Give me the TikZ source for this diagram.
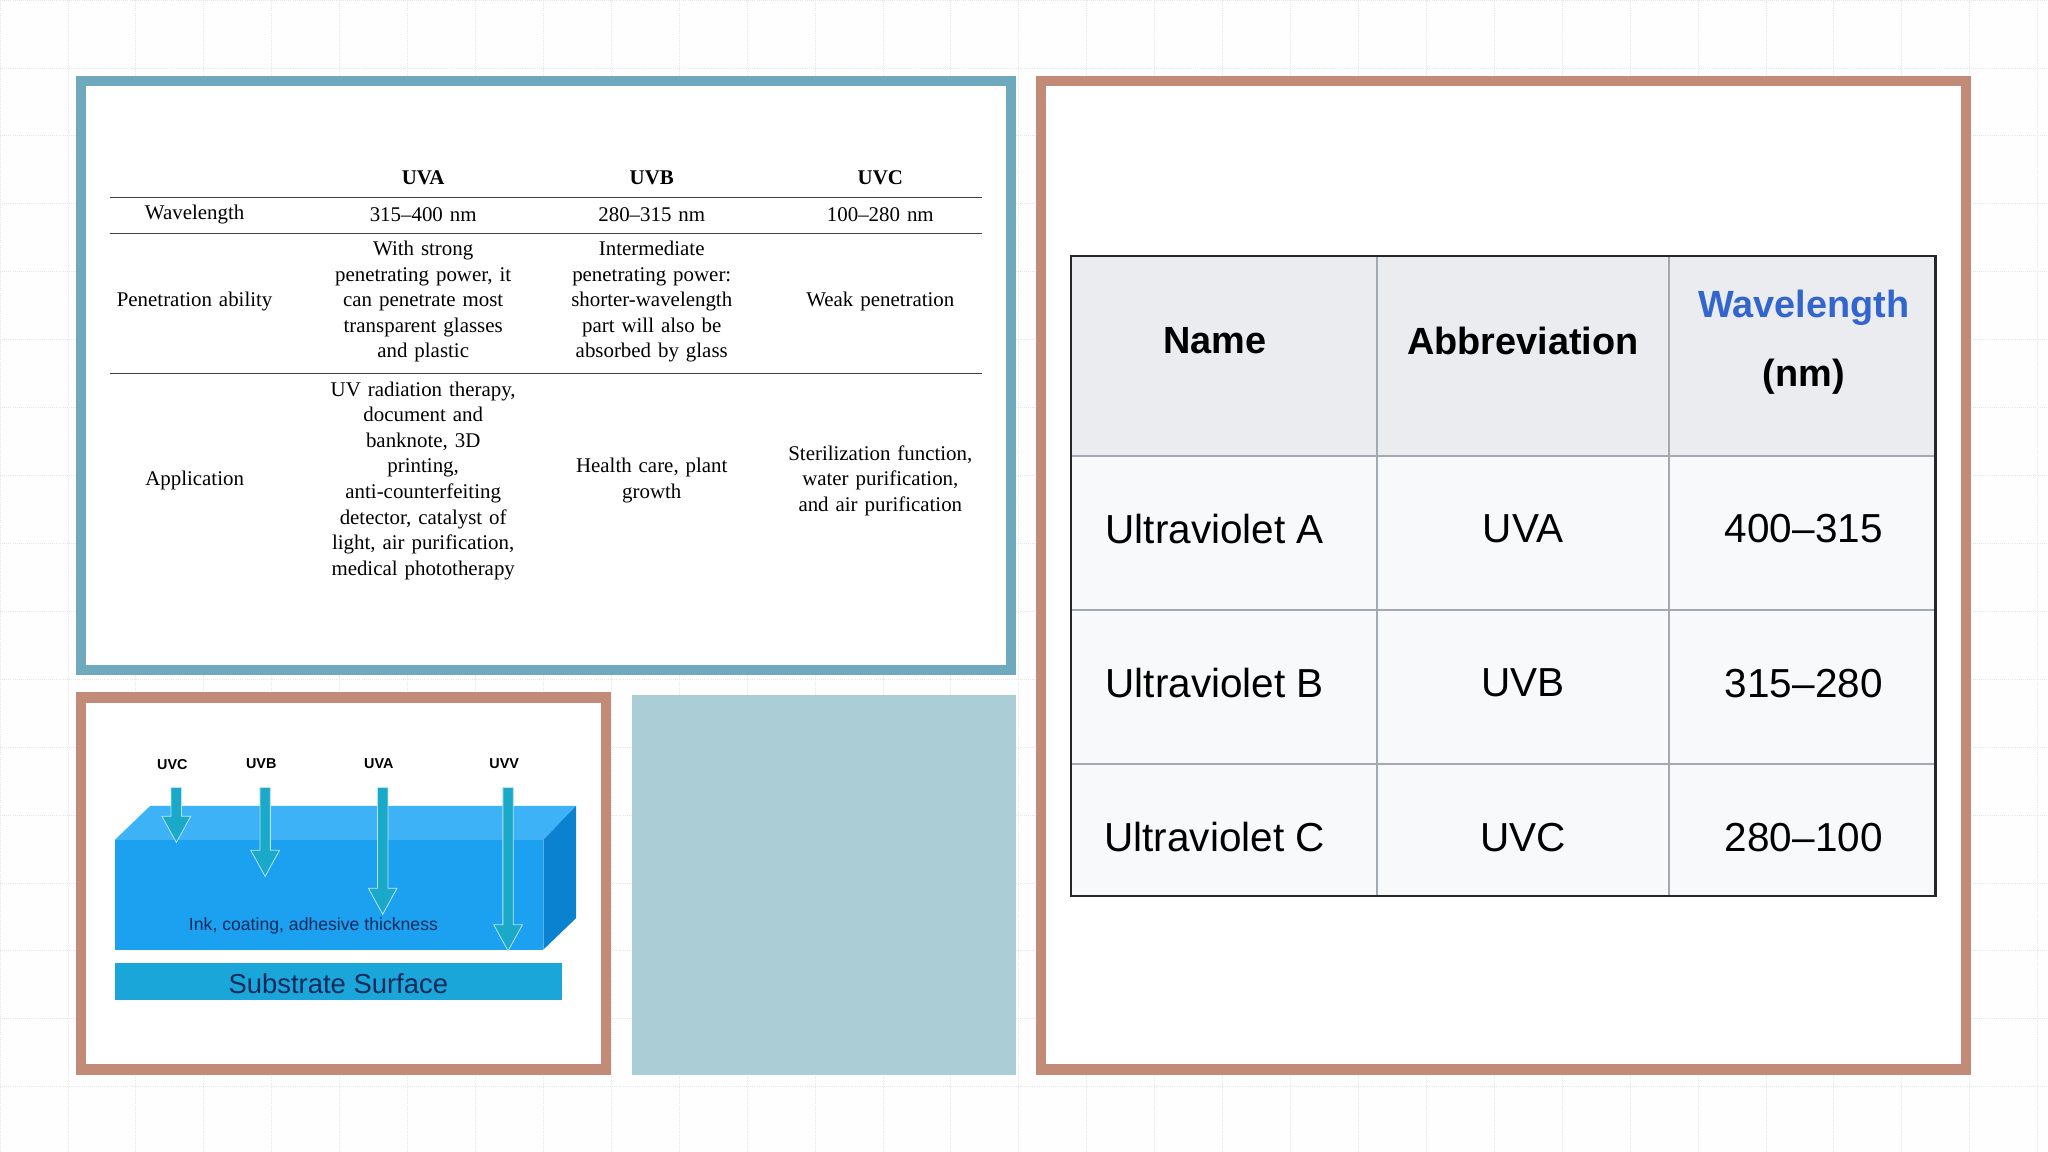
\documentclass[tikz,border=0pt]{standalone}
\usepackage{fontspec}
\setmainfont{Liberation Serif}
\setsansfont{Liberation Sans}
\usetikzlibrary{arrows.meta}
\definecolor{frameblue}{HTML}{6FA9BD}
\definecolor{framebrown}{HTML}{C28B78}
\definecolor{tealbox}{HTML}{AACDD6}
\definecolor{gridc}{HTML}{E6E6E6}
\definecolor{hdrfill}{HTML}{EAECF0}
\definecolor{cellfill}{HTML}{F8F9FA}
\definecolor{cellline}{HTML}{A2A9B1}
\definecolor{wikiblue}{HTML}{3366CC}
\definecolor{frontc}{HTML}{1BA1F0}
\definecolor{topc}{HTML}{3DB2F6}
\definecolor{sidec}{HTML}{0B82CF}
\definecolor{subc}{HTML}{1AA6D8}
\definecolor{arrc}{HTML}{1AA9C9}
\definecolor{navy}{HTML}{0E2A5C}
\tikzset{
  tcell/.style={font=\fontsize{16}{19.6}\selectfont, align=center, text width=160pt, inner sep=0pt},
  thead/.style={font=\bfseries\fontsize{16}{19.6}\selectfont, inner sep=0pt},
  wcell/.style={font=\sffamily\fontsize{31}{36}\selectfont, inner sep=0pt},
  whead/.style={font=\sffamily\bfseries\fontsize{29}{53}\selectfont, inner sep=0pt, align=center},
  uvlab/.style={font=\sffamily\bfseries\fontsize{11}{12}\selectfont, inner sep=0pt},
  uvarrow/.style={draw=white!70!arrc, line width=0.6pt, fill=arrc},
}
\begin{document}
\begin{tikzpicture}[x=1pt,y=-1pt]
\useasboundingbox (0,0) rectangle (1568,882);
\fill[white!97!gridc] (0,0) rectangle (1568,882);
\foreach \x in {0,52,...,1568} \draw[gridc, densely dotted, line width=0.6pt] (\x,0) -- (\x,882);
\foreach \y in {0,52,...,882} \draw[gridc, densely dotted, line width=0.6pt] (0,\y) -- (1568,\y);

% blue frame with table
\draw[frameblue, line width=8pt, fill=white] (62,62) rectangle (774,513);
\draw[line width=0.8pt, black!75] (84,151) -- (752,151) (84,179) -- (752,179) (84,286) -- (752,286);
\node[thead] (hA) at (324,136) {UVA};
\node[thead] (hB) at (499,136) {UVB};
\node[thead] (hC) at (674,136) {UVC};
\node[tcell] (r1) at (149,164) {Wavelength};
\node[tcell] (r1a) at (324,164) {315–400 nm};
\node[tcell] (r1b) at (499,164) {280–315 nm};
\node[tcell] (r1c) at (674,164) {100–280 nm};
\node[tcell] (r2) at (149,231) {Penetration ability};
\node[tcell] (r2a) at (324,231) {With strong\\penetrating power, it\\can penetrate most\\transparent glasses\\and plastic};
\node[tcell] (r2b) at (499,231) {Intermediate\\penetrating power:\\shorter-wavelength\\part will also be\\absorbed by glass};
\node[tcell] (r2c) at (674,231) {Weak penetration};
\node[tcell] (r3) at (149,368) {Application};
\node[tcell] (r3a) at (324,368) {UV radiation therapy,\\document and\\banknote, 3D\\printing,\\anti-counterfeiting\\detector, catalyst of\\light, air purification,\\medical phototherapy};
\node[tcell] (r3b) at (499,368) {Health care, plant\\growth};
\node[tcell] (r3c) at (674,368) {Sterilization function,\\water purification,\\and air purification};

% bottom-left frame
\draw[framebrown, line width=8pt, fill=white] (62,534) rectangle (464,819);
\fill[topc] (88,643) -- (115,617) -- (441,617) -- (416,643) -- cycle;
\fill[sidec] (416,643) -- (441,617) -- (441,703) -- (416,727) -- cycle;
\fill[frontc] (88,643) rectangle (416,727);
\node[font=\sffamily\fontsize{13.5}{14}\selectfont, text=navy, inner sep=0pt] (ink) at (240,709) {Ink, coating, adhesive thickness};
\fill[subc] (88,737) rectangle (430,766);
\node[font=\sffamily\fontsize{21}{22}\selectfont, text=navy, inner sep=0pt] (sub) at (259,753) {Substrate Surface};
\foreach \n/\x/\t/\l in {c/135/645/UVC, b/203/671/UVB, a/293/700/UVA, v/389/728/UVV}{
  \node[uvlab] (lab\n) at (\x-3+3*0,585) {\l};
  \draw[uvarrow] (\x-4,603) -- (\x+4,603) -- (\x+4,\t-20) -- (\x+11,\t-20) -- (\x,\t) -- (\x-11,\t-20) -- (\x-4,\t-20) -- cycle;
}
% teal box
\fill[tealbox] (484,532) rectangle (778,823);

% right frame
\draw[framebrown, line width=8pt, fill=white] (797,62) rectangle (1505,819);
\fill[hdrfill] (820,196) rectangle (1482,349);
\fill[cellfill] (820,349) rectangle (1482,686);
\draw[cellline, line width=1.5pt] (820,349) -- (1482,349) (820,467) -- (1482,467) (820,585) -- (1482,585)
  (1054,196) -- (1054,686) (1278,196) -- (1278,686);
\draw[black!85, line width=2pt] (820,196) rectangle (1482,686);
\node[whead] (wn) at (930,261) {Name};
\node[whead] (wab) at (1166,261) {Abbreviation};
\node[whead] (wwl) at (1381,262) {\textcolor{wikiblue}{Wavelength}\\(nm)};
\node[wcell] (a1) at (930,405) {Ultraviolet A};
\node[wcell] (a2) at (1166,405) {UVA};
\node[wcell] (a3) at (1381,405) {400–315};
\node[wcell] (b1) at (930,523) {Ultraviolet B};
\node[wcell] (b2) at (1166,523) {UVB};
\node[wcell] (b3) at (1381,523) {315–280};
\node[wcell] (c1) at (930,641) {Ultraviolet C};
\node[wcell] (c2) at (1166,641) {UVC};
\node[wcell] (c3) at (1381,641) {280–100};
\end{tikzpicture}
\end{document}
